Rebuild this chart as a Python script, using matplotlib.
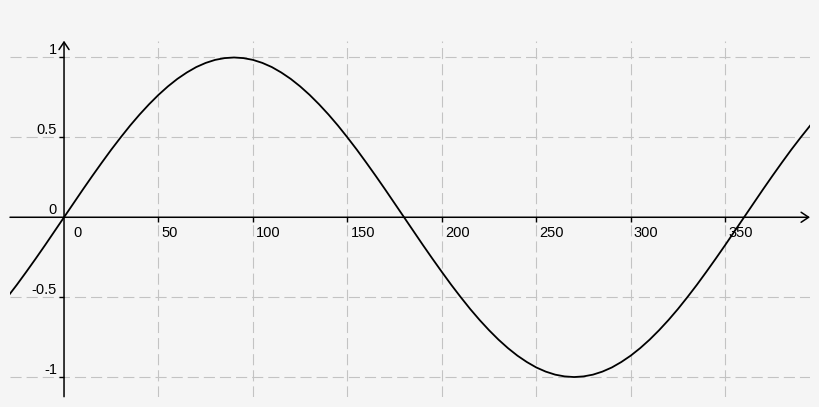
import matplotlib
matplotlib.use("Agg")
import matplotlib.pyplot as plt

plt.rcParams['font.family'] = ['Liberation Sans', 'DejaVu Sans']
plt.rcParams['lines.scale_dashes'] = False

# Curve samples every 5 degrees
x_deg = list(range(-30, 405, 5))
y_val = [-0.5, -0.423, -0.342, -0.259, -0.174, -0.087,
         0.0, 0.087, 0.174, 0.259, 0.342, 0.423, 0.5, 0.574, 0.643, 0.707,
         0.766, 0.819, 0.866, 0.906, 0.940, 0.966, 0.985, 0.996, 1.0,
         0.996, 0.985, 0.966, 0.940, 0.906, 0.866, 0.819, 0.766, 0.707,
         0.643, 0.574, 0.5, 0.423, 0.342, 0.259, 0.174, 0.087, 0.0,
         -0.087, -0.174, -0.259, -0.342, -0.423, -0.5, -0.574, -0.643, -0.707,
         -0.766, -0.819, -0.866, -0.906, -0.940, -0.966, -0.985, -0.996, -1.0,
         -0.996, -0.985, -0.966, -0.940, -0.906, -0.866, -0.819, -0.766, -0.707,
         -0.643, -0.574, -0.5, -0.423, -0.342, -0.259, -0.174, -0.087, 0.0,
         0.087, 0.174, 0.259, 0.342, 0.423, 0.5, 0.574, 0.643]

x_ticks = [0, 50, 100, 150, 200, 250, 300, 350]
x_labels = ['0', '50', '100', '150', '200', '250', '300', '350']
y_ticks = [-1, -0.5, 0, 0.5, 1]
y_labels = ['-1', '-0.5', '0', '0.5', '1']

# visible window of the graphics view
xmin, xmax = -28.6, 394.9
ymin, ymax = -1.123, 1.105

W, H = 820, 407
bg = '#f5f5f5'
fig = plt.figure(figsize=(W / 100, H / 100), dpi=100, facecolor=bg)
ax = fig.add_axes([10 / W, (H - 396.7) / H, 800 / W, (396.7 - 40.7) / H])
ax.set_xlim(xmin, xmax)
ax.set_ylim(ymin, ymax)
ax.axis('off')

grid_kw = dict(color='#c3c3c3', lw=0.8, linestyles=(0, (8, 3.6)), zorder=1)
ax.hlines([v for v in y_ticks if v != 0], xmin, xmax, **grid_kw)
ax.vlines([v for v in x_ticks if v != 0], ymin, ymax, **grid_kw)

# axes with arrows
arrow = dict(arrowstyle='->,head_length=0.45,head_width=0.3', color='black',
             lw=1.1, mutation_scale=12, shrinkA=0, shrinkB=0)
ax.annotate('', xy=(xmax, 0), xytext=(xmin, 0), arrowprops=arrow, zorder=3)
ax.annotate('', xy=(0, ymax), xytext=(0, ymin), arrowprops=arrow, zorder=3)

# tick marks (5 px)
px_x = 800 / (xmax - xmin)
px_y = 356 / (ymax - ymin)
ax.vlines([v for v in x_ticks if v != 0], 0, -5 / px_y, color='black', lw=1.0, zorder=3)
ax.hlines([v for v in y_ticks if v != 0], 0, -5 / px_x, color='black', lw=1.0, zorder=3)

for v, lab in zip(x_ticks, x_labels):
    dx = 6.5 if v == 0 else 2.2
    ax.annotate(lab, (v, 0), xytext=(dx, -6), textcoords='offset points',
                ha='left', va='top', fontsize=10.5, annotation_clip=False)
for v, lab in zip(y_ticks, y_labels):
    ax.annotate(lab, (0, v), xytext=(-5, 2.5), textcoords='offset points',
                ha='right', va='baseline', fontsize=10.5, annotation_clip=False)

ax.plot(x_deg, y_val, color='black', lw=1.3, solid_joinstyle='round', zorder=4)

fig.savefig('out.png', dpi=100, facecolor=bg)
